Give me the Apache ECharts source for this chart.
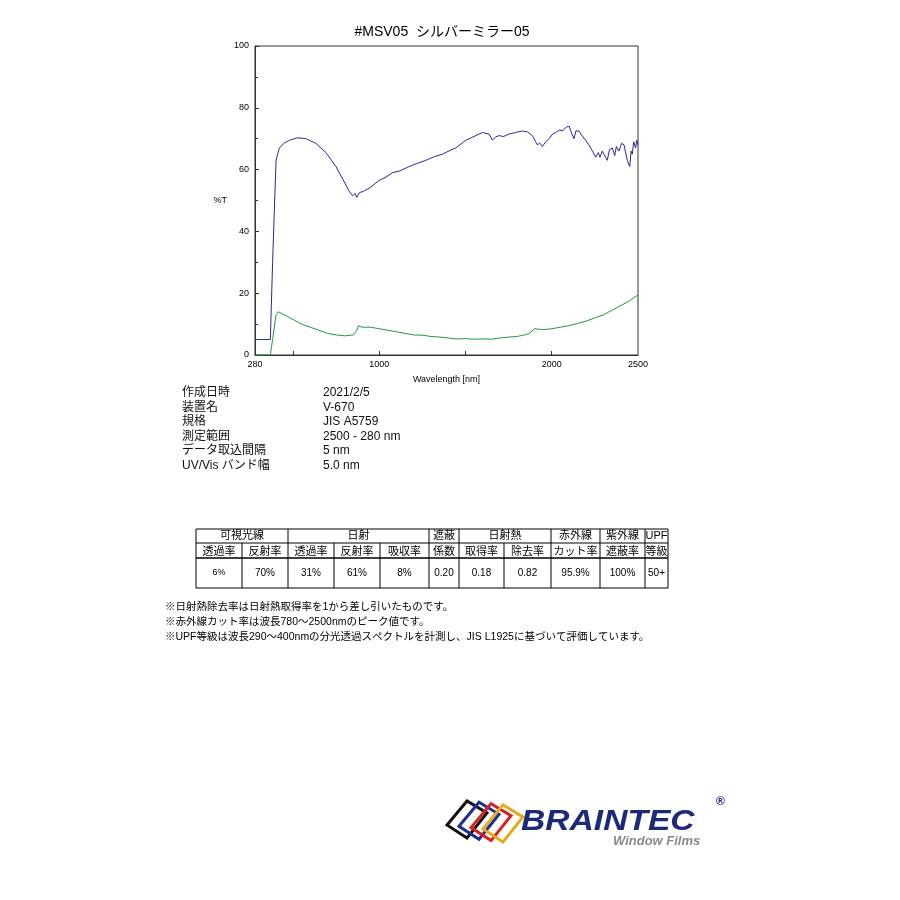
<!DOCTYPE html>
<html><head><meta charset="utf-8">
<script src="https://cdn.jsdelivr.net/npm/echarts@6/dist/echarts.min.js"></script>
<style>html,body{margin:0;background:#fff}#main{width:900px;height:900px}</style>
</head><body><div id="main"></div>
<script>
var chart = echarts.init(document.getElementById('main'));
var FONT = '"Liberation Sans","Noto Sans CJK JP",sans-serif';

// 透過（青）
var blueData = [[280,5],[369,5],[382,30],[402,63],[421,67],[450,68.6],[479,69.5],[527,70.3],[575,70],[633,68.5],
  [691,65.5],[749,61],[788,57],[826,53],[846,51.5],[860,52.3],[870,51],[884,52.5],[910,53],[942,54],[970,55.2],[1000,56.5],
  [1040,57.6],[1077,59],[1120,59.6],[1174,61],[1220,62],[1270,63],[1320,64.2],[1367,65],[1410,66.2],[1444,67],[1502,69.5],
  [1560,71],[1598,72],[1637,71.5],[1656,69.5],[1675,70.6],[1695,71],[1720,70.7],[1753,71.5],[1790,72],[1830,72.5],[1860,72.2],
  [1888,71],[1905,69.2],[1917,68],[1930,68.6],[1946,67.5],[1965,69],[1985,70],[2005,71.5],[2023,72],[2045,72.8],[2062,72.5],
  [2085,73.8],[2101,74],[2115,71.8],[2129,70],[2140,72.5],[2158,72.5],[2175,71],[2197,69.5],[2215,68],[2236,66],[2255,64],
  [2270,65.5],[2280,64],[2293,66],[2305,64.8],[2322,63],[2335,66.5],[2351,67],[2365,64.5],[2375,67.5],[2390,66],[2405,68.5],
  [2419,68],[2430,65],[2438,63],[2452,61],[2460,66],[2467,65],[2475,69],[2486,67],[2493,69.5],[2500,68]];

// 反射（緑）
var greenData = [[280,0],[369,0],[382,5],[402,13],[415,14],[450,13],[500,11.5],[550,10],[600,9],[650,8],[700,7],[750,6.5],
  [800,6.2],[850,6.5],[870,8],[880,9.5],[900,9],[950,9],[1000,8.5],[1050,8],[1100,7.5],[1150,7],[1200,6.5],[1250,6.4],[1300,6],
  [1350,5.8],[1400,5.5],[1450,5.2],[1500,5.3],[1550,5.1],[1600,5.2],[1650,5.1],[1700,5.5],[1750,5.8],[1800,6],[1850,6.6],[1870,7],
  [1900,8.5],[1950,8.2],[2000,8.5],[2050,9],[2100,9.5],[2150,10.2],[2200,11],[2250,12],[2300,13],[2350,14.5],[2400,16],
  [2450,17.5],[2500,19.5]];

var xLabels = [280, 1000, 2000, 2500];
var xTicks = [500, 1000, 1500, 2000];

var infoKeys = ['作成日時','装置名','規格','測定範囲','データ取込間隔','UV/Vis バンド幅'];
var infoVals = ['2021/2/5','V-670','JIS A5759','2500 - 280 nm','5 nm','5.0 nm'];

var colEdges = [196,242,288,334,380,429,459,504,551,600,645,668];
var head1 = [['可視光線',0,2],['日射',2,5],['遮蔽',5,6],['日射熱',6,8],['赤外線',8,9],['紫外線',9,10],['UPF',10,11]];
var head2 = ['透過率','反射率','透過率','反射率','吸収率','係数','取得率','除去率','カット率','遮蔽率','等級'];
var rowVals = ['6%','70%','31%','61%','8%','0.20','0.18','0.82','95.9%','100%','50+'];
var notes = ['※日射熱除去率は日射熱取得率を1から差し引いたものです。',
  '※赤外線カット率は波長780〜2500nmのピーク値です。',
  '※UPF等級は波長290〜400nmの分光透過スペクトルを計測し、JIS L1925に基づいて評価しています。'];

var g = [];
infoKeys.forEach(function (k, i) {
  g.push({type:'text', left:182, top:387 + i*14.5, style:{text:k, font:'12px '+FONT, fill:'#111'}});
  g.push({type:'text', left:323, top:387 + i*14.5, style:{text:infoVals[i], font:'12px '+FONT, fill:'#111'}});
});
var T0 = 529, T1 = 543, T2 = 558, T3 = 588;
g.push({type:'rect', shape:{x:colEdges[0], y:T0, width:colEdges[11]-colEdges[0], height:T3-T0}, style:{fill:'none', stroke:'#000', lineWidth:1}});
g.push({type:'line', shape:{x1:colEdges[0], y1:T1, x2:colEdges[11], y2:T1}, style:{stroke:'#000'}});
g.push({type:'line', shape:{x1:colEdges[0], y1:T2, x2:colEdges[11], y2:T2}, style:{stroke:'#000', lineWidth:1.5}});
for (var c = 1; c < 11; c++) {
  var yTop = [2,5,6,8,9,10].indexOf(c) >= 0 ? T0 : T1;
  g.push({type:'line', shape:{x1:colEdges[c], y1:yTop, x2:colEdges[c], y2:T3}, style:{stroke:'#000'}});
}
head1.forEach(function (h) {
  var cx = (colEdges[h[1]] + colEdges[h[2]]) / 2;
  g.push({type:'text', x:cx, y:(T0+T1)/2, style:{text:h[0], font:'11px '+FONT, fill:'#000', align:'center', verticalAlign:'middle'}});
});
head2.forEach(function (h, i) {
  var cx = (colEdges[i] + colEdges[i+1]) / 2;
  g.push({type:'text', x:cx, y:(T1+T2)/2+1, style:{text:h, font:'11px '+FONT, fill:'#000', align:'center', verticalAlign:'middle'}});
  g.push({type:'text', x:cx, y:(T2+T3)/2, style:{text:rowVals[i], font:(i==0?'9px ':'10px ')+FONT, fill:'#000', align:'center', verticalAlign:'middle'}});
});
notes.forEach(function (n, i) {
  g.push({type:'text', left:165, top:602 + i*15, style:{text:n, font:'10.5px '+FONT, fill:'#000'}});
});
// ロゴ
var logoCols = ['#111','#1f2f8f','#d82020','#e8a820'];
logoCols.forEach(function (col, i) {
  var dx = i*12, dy = i*1.3;
  g.push({type:'polygon', shape:{points:[[447+dx,825+dy],[467+dx,801+dy],[487+dx,813+dy],[467+dx,838+dy]]},
    style:{fill:'none', stroke:col, lineWidth:3}});
});
g.push({type:'text', x:521, y:822, scaleX:1.12, style:{text:'BRAINTEC', font:'italic 900 30px "Liberation Sans",sans-serif', fill:'#1c2a78', verticalAlign:'middle'}});
g.push({type:'text', x:716, y:802, style:{text:'®', font:'bold 12px "Liberation Sans",sans-serif', fill:'#1c2a78', verticalAlign:'middle'}});
g.push({type:'text', x:613, y:841, style:{text:'Window Films', font:'italic bold 13px "Liberation Sans",sans-serif', fill:'#8a8a8a', verticalAlign:'middle'}});

var option = {
  backgroundColor: '#fff',
  animation: false,
  title: {text:'#MSV05  シルバーミラー05', left:437, top:20, textAlign:'center',
    textStyle:{fontFamily:FONT, fontSize:14, fontWeight:'normal', color:'#000'}},
  grid: {left:255, right:262, top:46, bottom:545, show:true, borderColor:'#333', borderWidth:1},
  xAxis: {type:'value', min:280, max:2500, name:'Wavelength [nm]', nameLocation:'middle', nameGap:20,
    nameTextStyle:{fontFamily:FONT, fontSize:9, color:'#000'},
    axisLine:{lineStyle:{color:'#333'}}, splitLine:{show:false},
    axisTick:{inside:true, length:4, customValues:xTicks, lineStyle:{color:'#333'}},
    axisLabel:{customValues:xLabels, formatter:function (v) { return String(v); }, fontFamily:FONT, fontSize:9, color:'#000', margin:5}},
  yAxis: {type:'value', min:0, max:100, interval:20, name:'%T', nameLocation:'middle', nameGap:28, nameRotate:0,
    nameTextStyle:{fontFamily:FONT, fontSize:9, color:'#000'},
    axisLine:{show:true, lineStyle:{color:'#333'}}, splitLine:{show:false},
    axisTick:{inside:true, length:4, lineStyle:{color:'#333'}},
    minorTick:{show:true, splitNumber:2, length:3, lineStyle:{color:'#333'}},
    axisLabel:{fontFamily:FONT, fontSize:9, color:'#000', margin:6}},
  series: [
    {type:'line', data:blueData, showSymbol:false, lineStyle:{color:'#2b2a8e', width:1}},
    {type:'line', data:greenData, showSymbol:false, lineStyle:{color:'#1f9a3c', width:1}}
  ],
  graphic: g
};
chart.setOption(option);
</script></body></html>
